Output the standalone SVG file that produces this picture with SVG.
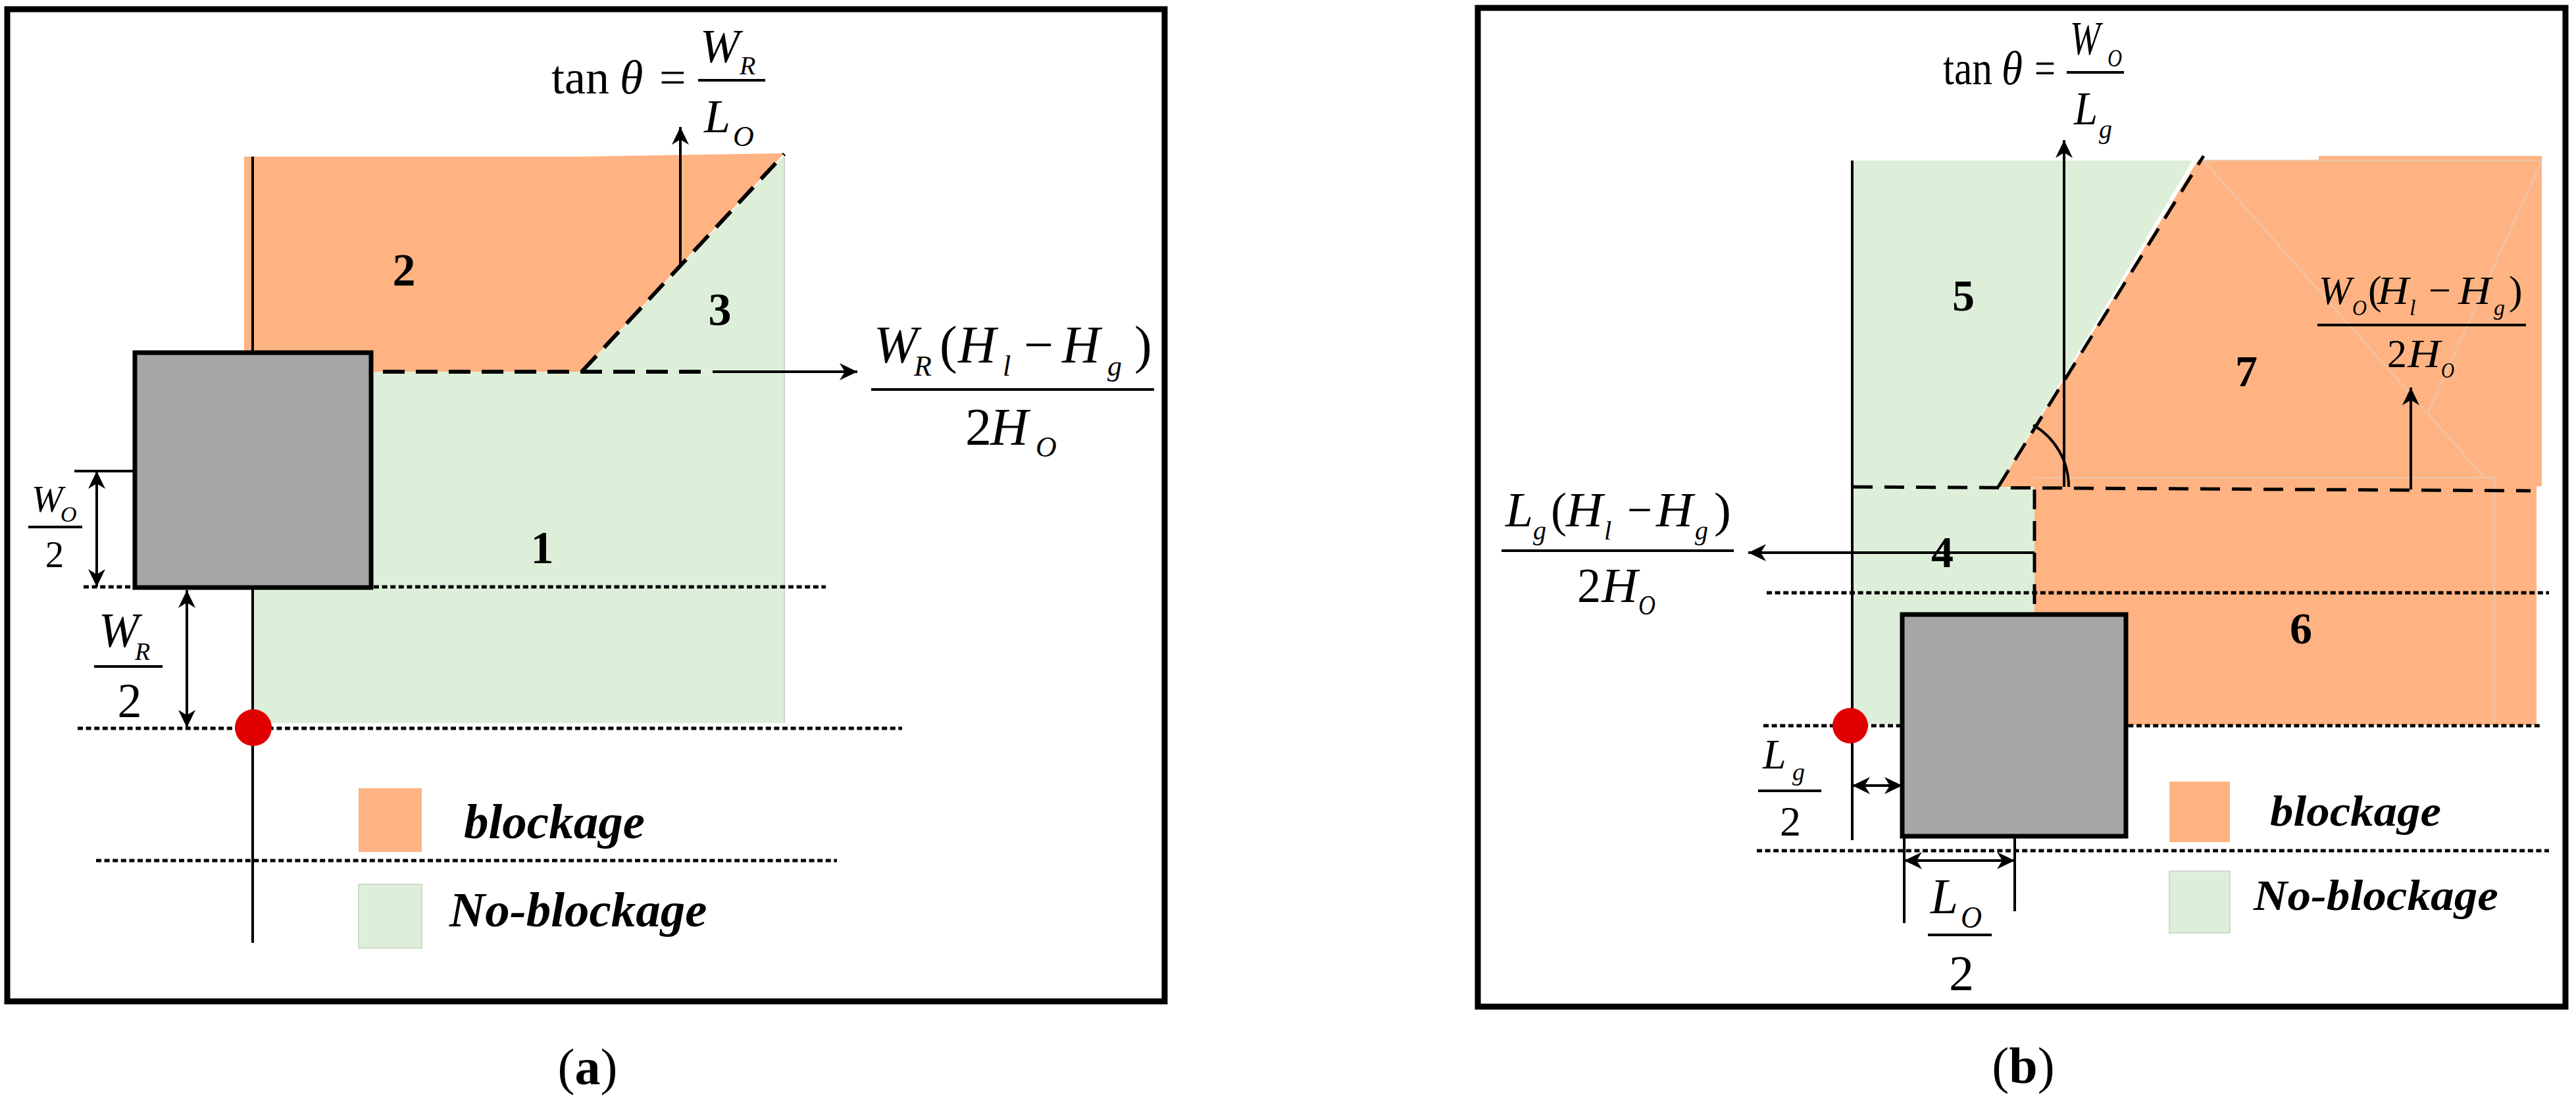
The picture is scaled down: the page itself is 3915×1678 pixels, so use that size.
<svg xmlns="http://www.w3.org/2000/svg" width="3915" height="1678" viewBox="0 0 3915 1678">
<defs>
<style>
.t{font-family:"Liberation Serif","Times New Roman",serif;fill:#000}
.i{font-style:italic}
.b{font-weight:bold}
.ln{stroke:#000;stroke-width:4;fill:none}
.dot{stroke:#000;stroke-width:5;stroke-dasharray:8 4.6;fill:none}
.dash{stroke:#000;stroke-width:6;stroke-dasharray:33 17;fill:none}
.dashb{stroke:#000;stroke-width:5;stroke-dasharray:30 18;fill:none}
.frame{fill:none;stroke:#000;stroke-width:9}
.box{fill:#A6A6A6;stroke:#000;stroke-width:7}
.or{fill:#FFB382}
.gr{fill:#DDEFD9}
.faint{stroke:#EEC4A8;stroke-width:2.5;fill:none}
.bar{stroke:#000;stroke-width:4}
</style>
<marker id="ah" viewBox="-28 -14 30 28" refX="0" refY="0" markerWidth="30" markerHeight="28" markerUnits="userSpaceOnUse" orient="auto-start-reverse"><path d="M0,0 L-27,-13 L-19,0 L-27,13 Z" fill="#000"/></marker>
</defs>
<rect width="3915" height="1678" fill="#fff"/>

<!-- Panel (a) -->
<g id="panel-a">
<rect class="frame" x="11" y="14" width="1759" height="1508"/>
<g id="region-2"><polygon class="or" points="371,238 884,238 1192,233 884,565 371,565"/></g>
<g id="region-1-3"><polygon class="gr" points="884,565 1192,236 1192,1099 386,1099 386,893 564,893 564,565"/>
<line x1="1192" y1="236" x2="1192" y2="1099" stroke="#cfd6cd" stroke-width="2"/></g>
</g>

<g id="connectors-a">
<line class="ln" x1="384" y1="238" x2="384" y2="1433" stroke-width="3.5"/>
<line class="dot" x1="127" y1="892" x2="1255" y2="892"/>
<line class="dot" x1="118" y1="1107" x2="1371" y2="1107"/>
<line class="dot" x1="146" y1="1308" x2="1272" y2="1308"/>
<line class="dash" x1="582" y1="565" x2="1080" y2="565"/>
<line class="dash" x1="884" y1="565" x2="1192" y2="234"/>
<line class="ln" x1="1083" y1="565" x2="1303" y2="565" stroke-width="5" marker-end="url(#ah)"/>
<line class="ln" x1="1034" y1="405" x2="1034" y2="193" marker-end="url(#ah)"/>
<line class="ln" x1="113" y1="716" x2="205" y2="716"/>
<line class="ln" x1="147" y1="716" x2="147" y2="892" marker-start="url(#ah)" marker-end="url(#ah)"/>
<line class="ln" x1="284" y1="897" x2="284" y2="1106" marker-start="url(#ah)" marker-end="url(#ah)"/>
</g>

<g id="obstacle-a"><rect class="box" x="205" y="536" width="359" height="357"/></g>
<g id="receiver-a"><circle cx="385" cy="1106" r="28" fill="#E00000"/></g>

<g id="labels-a">
<text class="t b" x="614" y="434" font-size="70" text-anchor="middle">2</text>
<text class="t b" x="1094" y="494" font-size="70" text-anchor="middle">3</text>
<text class="t b" x="824" y="856" font-size="70" text-anchor="middle">1</text>
</g>

<g id="formula-a1">
<text class="t" x="838" y="142" font-size="72">tan</text>
<text class="t i" x="942" y="142" font-size="72">θ</text>
<text class="t" x="1002" y="142" font-size="72">=</text>
<line class="bar" x1="1061" y1="122" x2="1163" y2="122"/>
<text class="t i" x="1064" y="94" font-size="72">W</text>
<text class="t i" x="1124" y="113" font-size="40">R</text>
<text class="t i" x="1070" y="201" font-size="72">L</text>
<text class="t i" x="1114" y="222" font-size="44">O</text>
</g>

<g id="formula-a2">
<text class="t i" x="1328" y="551" font-size="80">W</text>
<text class="t i" x="1389" y="571" font-size="44">R</text>
<text class="t" x="1428" y="551" font-size="80">(</text>
<text class="t i" x="1456" y="551" font-size="80">H</text>
<text class="t i" x="1524" y="571" font-size="44">l</text>
<text class="t" x="1556" y="551" font-size="80">−</text>
<text class="t i" x="1614" y="551" font-size="80">H</text>
<text class="t i" x="1683" y="571" font-size="44">g</text>
<text class="t" x="1724" y="551" font-size="80">)</text>
<line class="bar" x1="1324" y1="592" x2="1754" y2="592"/>
<text class="t" x="1467" y="676" font-size="80">2</text>
<text class="t i" x="1505" y="676" font-size="80">H</text>
<text class="t i" x="1574" y="694" font-size="44">O</text>
</g>

<g id="dim-wo">
<text class="t i" x="48" y="778" font-size="57">W</text>
<text class="t i" x="92" y="793" font-size="34">O</text>
<line class="bar" x1="43" y1="801" x2="125" y2="801" stroke-width="3.5"/>
<text class="t" x="83" y="862" font-size="57" text-anchor="middle">2</text>
</g>
<g id="dim-wr">
<text class="t i" x="150" y="983" font-size="73">W</text>
<text class="t i" x="205" y="1003" font-size="38">R</text>
<line class="bar" x1="143" y1="1013" x2="247" y2="1013"/>
<text class="t" x="197" y="1090" font-size="74" text-anchor="middle">2</text>
</g>

<g id="legend-a">
<rect class="or" x="545" y="1198" width="96" height="97"/>
<rect class="gr" x="545" y="1344" width="96" height="97" stroke="#d3d8d1" stroke-width="2"/>
<text class="t b i" x="705" y="1274" font-size="75">blockage</text>
<text class="t b i" x="683" y="1408" font-size="75">No-blockage</text>
</g>
<text id="caption-a" class="t" x="893" y="1648" font-size="78" text-anchor="middle">(<tspan font-weight="bold">a</tspan>)</text>

<!-- Panel (b) -->
<g id="panel-b">
<rect class="frame" x="2246" y="12" width="1653" height="1518"/>
<g id="region-5-4"><polygon class="gr" points="2816,244 3332,244 3037,740 3092,740 3092,934 2891,934 2891,1100 2816,1100"/></g>
<g id="region-6-7"><polygon class="or" points="3037,740 3340,244 3524,244 3524,237 3863,237 3863,739 3855,739 3855,1102 3231,1102 3231,934 3092,934 3092,740"/>
<line class="faint" x1="3349" y1="244" x2="3776" y2="726"/>
<line class="faint" x1="3863" y1="244" x2="3690" y2="627"/>
<line class="faint" x1="3340" y1="244" x2="3863" y2="244"/>
<polyline class="faint" points="3092,726 3791,726 3791,1102"/></g>
</g>

<g id="connectors-b">
<line class="ln" x1="2815" y1="244" x2="2815" y2="1277" stroke-width="3.5"/>
<line class="dot" x1="2685" y1="901" x2="3874" y2="901"/>
<line class="dot" x1="2680" y1="1103" x2="3860" y2="1103"/>
<line class="dot" x1="2670" y1="1293" x2="3874" y2="1293"/>
<line class="dashb" x1="2816" y1="740" x2="3846" y2="746"/>
<line class="dashb" x1="3037" y1="740" x2="3349" y2="237" stroke-dasharray="22 13"/>
<line class="dashb" x1="3092" y1="744" x2="3092" y2="925" stroke-width="4" stroke-dasharray="25 14"/>
<line class="ln" x1="3137" y1="740" x2="3137" y2="213" marker-end="url(#ah)"/>
<line class="ln" x1="3664" y1="744" x2="3664" y2="589" marker-end="url(#ah)"/>
<line class="ln" x1="3092" y1="840" x2="2657" y2="840" stroke-width="5" marker-end="url(#ah)"/>
<path class="ln" d="M3090,646 A108,108 0 0 1 3144,740" stroke-width="6"/>
<line class="ln" x1="2815" y1="1194" x2="2891" y2="1194" marker-start="url(#ah)" marker-end="url(#ah)"/>
<line class="ln" x1="2894" y1="1271" x2="2894" y2="1403" stroke-width="3.5"/>
<line class="ln" x1="3062" y1="1273" x2="3062" y2="1385" stroke-width="3.5"/>
<line class="ln" x1="2894" y1="1308" x2="3062" y2="1308" marker-start="url(#ah)" marker-end="url(#ah)"/>
</g>

<g id="obstacle-b"><rect class="box" x="2891" y="934" width="340" height="337" stroke-width="6"/></g>
<g id="receiver-b"><circle cx="2812" cy="1103" r="27" fill="#E00000"/></g>

<g id="labels-b">
<text class="t b" x="2984" y="472" font-size="68" text-anchor="middle">5</text>
<text class="t b" x="3414" y="587" font-size="68" text-anchor="middle">7</text>
<text class="t b" x="2952" y="862" font-size="68" text-anchor="middle">4</text>
<text class="t b" x="3497" y="978" font-size="68" text-anchor="middle">6</text>
</g>

<g id="formula-b1">
<text class="t" x="2953" y="128" font-size="72" textLength="75" lengthAdjust="spacingAndGlyphs">tan</text>
<text class="t i" x="3042" y="128" font-size="72" textLength="32" lengthAdjust="spacingAndGlyphs">θ</text>
<text class="t" x="3092" y="128" font-size="72" textLength="32" lengthAdjust="spacingAndGlyphs">=</text>
<line class="bar" x1="3141" y1="110" x2="3228" y2="110"/>
<text class="t i" x="3146" y="82" font-size="72" textLength="46" lengthAdjust="spacingAndGlyphs">W</text>
<text class="t i" x="3203" y="101" font-size="38" textLength="22" lengthAdjust="spacingAndGlyphs">O</text>
<text class="t i" x="3152" y="189" font-size="72" textLength="36" lengthAdjust="spacingAndGlyphs">L</text>
<text class="t i" x="3190" y="210" font-size="40">g</text>
</g>

<g id="formula-b2">
<text class="t i" x="3524" y="462" font-size="62" textLength="50" lengthAdjust="spacingAndGlyphs">W</text>
<text class="t i" x="3575" y="479" font-size="34" textLength="22" lengthAdjust="spacingAndGlyphs">O</text>
<text class="t" x="3599" y="462" font-size="62">(</text>
<text class="t i" x="3613" y="462" font-size="62" textLength="48" lengthAdjust="spacingAndGlyphs">H</text>
<text class="t i" x="3662" y="479" font-size="34">l</text>
<text class="t" x="3691" y="462" font-size="62" textLength="34" lengthAdjust="spacingAndGlyphs">−</text>
<text class="t i" x="3736" y="462" font-size="62" textLength="50" lengthAdjust="spacingAndGlyphs">H</text>
<text class="t i" x="3790" y="479" font-size="34">g</text>
<text class="t" x="3813" y="462" font-size="62">)</text>
<line class="bar" x1="3522" y1="494" x2="3839" y2="494"/>
<text class="t" x="3628" y="558" font-size="62" textLength="30" lengthAdjust="spacingAndGlyphs">2</text>
<text class="t i" x="3659" y="558" font-size="62" textLength="50" lengthAdjust="spacingAndGlyphs">H</text>
<text class="t i" x="3710" y="574" font-size="34" textLength="20" lengthAdjust="spacingAndGlyphs">O</text>
</g>

<g id="formula-b3">
<text class="t i" x="2288" y="800" font-size="74" textLength="42" lengthAdjust="spacingAndGlyphs">L</text>
<text class="t i" x="2330" y="820" font-size="40">g</text>
<text class="t" x="2357" y="800" font-size="74" textLength="24" lengthAdjust="spacingAndGlyphs">(</text>
<text class="t i" x="2380" y="800" font-size="74" textLength="56" lengthAdjust="spacingAndGlyphs">H</text>
<text class="t i" x="2438" y="820" font-size="40">l</text>
<text class="t" x="2473" y="800" font-size="74" textLength="38" lengthAdjust="spacingAndGlyphs">−</text>
<text class="t i" x="2517" y="800" font-size="74" textLength="56" lengthAdjust="spacingAndGlyphs">H</text>
<text class="t i" x="2576" y="820" font-size="40">g</text>
<text class="t" x="2605" y="800" font-size="74" textLength="26" lengthAdjust="spacingAndGlyphs">)</text>
<line class="bar" x1="2282" y1="837" x2="2635" y2="837"/>
<text class="t" x="2397" y="915" font-size="74" textLength="36" lengthAdjust="spacingAndGlyphs">2</text>
<text class="t i" x="2434" y="915" font-size="74" textLength="55" lengthAdjust="spacingAndGlyphs">H</text>
<text class="t i" x="2490" y="934" font-size="42" textLength="26" lengthAdjust="spacingAndGlyphs">O</text>
</g>

<g id="dim-lg">
<text class="t i" x="2679" y="1168" font-size="64">L</text>
<text class="t i" x="2724" y="1186" font-size="38">g</text>
<line class="bar" x1="2672" y1="1202" x2="2768" y2="1202" stroke-width="3.5"/>
<text class="t" x="2721" y="1270" font-size="64" text-anchor="middle">2</text>
</g>
<g id="dim-lo">
<text class="t i" x="2934" y="1388" font-size="76" textLength="42" lengthAdjust="spacingAndGlyphs">L</text>
<text class="t i" x="2980" y="1410" font-size="46" textLength="32" lengthAdjust="spacingAndGlyphs">O</text>
<line class="bar" x1="2930" y1="1421" x2="3027" y2="1421"/>
<text class="t" x="2981" y="1505" font-size="76" text-anchor="middle">2</text>
</g>

<g id="legend-b">
<rect class="or" x="3297" y="1188" width="92" height="92"/>
<rect class="gr" x="3297" y="1324" width="92" height="94" stroke="#d3d8d1" stroke-width="2"/>
<text class="t b i" x="3450" y="1255" font-size="66" textLength="260" lengthAdjust="spacingAndGlyphs">blockage</text>
<text class="t b i" x="3425" y="1383" font-size="66" textLength="372" lengthAdjust="spacingAndGlyphs">No-blockage</text>
</g>
<text id="caption-b" class="t" x="3075" y="1646" font-size="78" text-anchor="middle">(<tspan font-weight="bold">b</tspan>)</text>
</svg>
